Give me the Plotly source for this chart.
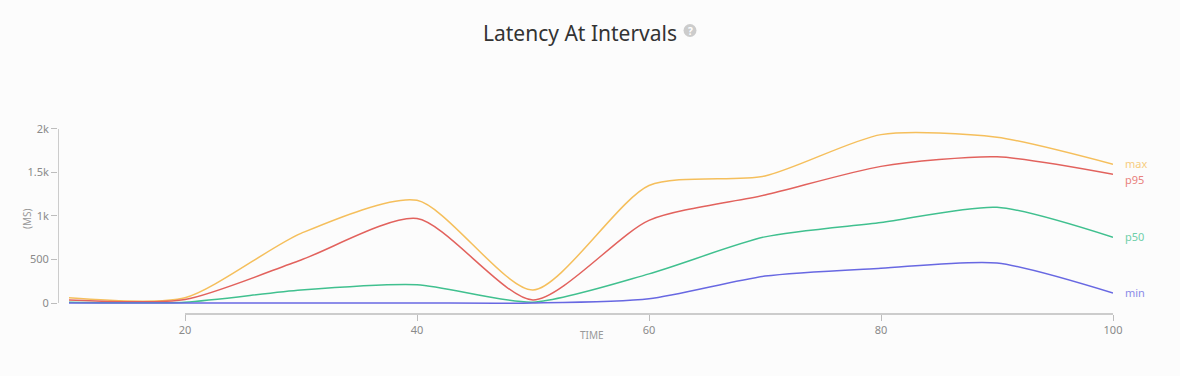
import plotly.graph_objects as go

time = [10, 20, 30, 40, 50, 60, 70, 80, 90, 100]
max_ms = [60, 60, 800, 1180, 150, 1350, 1460, 1935, 1905, 1595]
p95_ms = [35, 40, 495, 970, 35, 950, 1240, 1570, 1680, 1480]
p50_ms = [10, 10, 150, 210, 10, 335, 760, 925, 1100, 755]
min_ms = [0, 0, 0, 0, 0, 50, 310, 400, 460, 115]

series = [
    ("max", max_ms, "#f5bf5c", "#f7cc7f", 1598),
    ("p95", p95_ms, "#e2625d", "#e9817d", 1425),
    ("p50", p50_ms, "#40c08f", "#6fcfa9", 760),
    ("min", min_ms, "#6868e2", "#8b8be8", 115),
]

x_ticks = [20, 40, 60, 80, 100]
y_ticks = [0, 500, 1000, 1500, 2000]
y_tick_text = ["0", "500", "1k", "1.5k", "2k"]

FONT = "Noto Sans"
AXIS_COLOR = "#bdbdbd"
TICK_FONT_COLOR = "#8a8a8a"

fig = go.Figure()
for name, vals, color, label_color, label_y in series:
    fig.add_trace(go.Scatter(
        x=time, y=vals, mode="lines", name=name,
        line=dict(color=color, width=1.5, shape="spline", smoothing=0.7),
        hoverinfo="skip",
    ))
    fig.add_annotation(
        x=time[-1], y=label_y, text=name, showarrow=False,
        xanchor="left", yanchor="middle", xshift=10,
        font=dict(family=FONT, size=11, color=label_color),
    )

x_left = 10 - 11 / 11.6
fig.update_layout(
    width=1180, height=376,
    margin=dict(l=58, r=67, t=124, b=62),
    paper_bgcolor="#fcfcfc", plot_bgcolor="#fcfcfc",
    showlegend=False,
    font=dict(family=FONT, color=TICK_FONT_COLOR),
    xaxis=dict(
        range=[x_left, 100], tickvals=x_ticks, showgrid=False, zeroline=False,
        showline=False, ticks="outside", ticklen=6, tickcolor=AXIS_COLOR,
        tickfont=dict(size=11, color=TICK_FONT_COLOR, family=FONT),
    ),
    yaxis=dict(
        range=[-126.4, 2057], tickvals=y_ticks, ticktext=y_tick_text,
        showgrid=False, zeroline=False, showline=False,
        ticks="outside", ticklen=6, tickcolor=AXIS_COLOR,
        tickfont=dict(size=11, color=TICK_FONT_COLOR, family=FONT),
    ),
)

# Axis lines spanning only the tick domain
fig.add_shape(type="line", xref="x", yref="y", x0=x_left, x1=x_left, y0=0, y1=2000,
              line=dict(color=AXIS_COLOR, width=1.5))
fig.add_shape(type="line", xref="x", yref="paper", x0=20, x1=100, y0=0, y1=0,
              line=dict(color=AXIS_COLOR, width=1.5))

# Axis titles
fig.add_annotation(xref="paper", yref="paper", x=-31 / 1055, y=0.5, text="(MS)",
                   textangle=-90, showarrow=False, xanchor="center", yanchor="middle",
                   font=dict(family=FONT, size=10, color="#999999"))
fig.add_annotation(xref="paper", yref="paper", x=(592 - 58) / 1055, y=0, yshift=-21,
                   text="TIME", showarrow=False, xanchor="center", yanchor="middle",
                   font=dict(family=FONT, size=10, color="#999999"))

# Title with help icon
fig.add_annotation(xref="paper", yref="paper", x=(580 - 58) / 1055, y=1, yshift=91,
                   text="Latency At Intervals", showarrow=False,
                   xanchor="center", yanchor="middle",
                   font=dict(family=FONT, size=21, color="#333333"))
icon_x = (690 - 58) / 1055
fig.add_shape(type="circle", xref="paper", yref="paper", xsizemode="pixel", ysizemode="pixel",
              xanchor=icon_x, yanchor=1, x0=-6.5, x1=6.5, y0=87, y1=100,
              fillcolor="#cccccc", line=dict(width=0))
fig.add_annotation(xref="paper", yref="paper", x=icon_x, y=1, yshift=93.5,
                   text="<b>?</b>", showarrow=False, xanchor="center", yanchor="middle",
                   font=dict(family=FONT, size=10, color="#ffffff"))

fig.write_html(
    "out.html",
    config={"displayModeBar": False},
    post_script="document.body.style.margin='0';document.body.style.background='#fcfcfc';",
)
